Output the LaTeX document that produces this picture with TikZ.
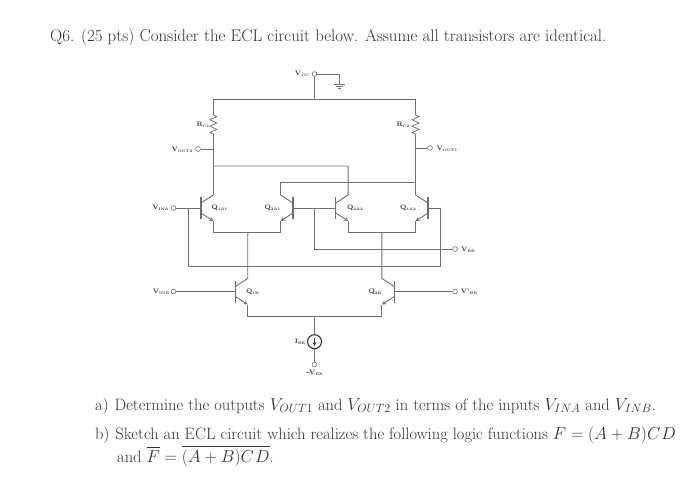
\documentclass[tikz,border=0pt]{standalone}
\usepackage{amsmath}
\definecolor{wiregray}{RGB}{110,110,110}
\definecolor{inkgray}{RGB}{50,50,50}
\newcommand{\sublbl}[2]{#1\raisebox{-1.2pt}{\fontsize{3.6}{4}\selectfont #2}}
\tikzset{
  wire/.style={wiregray, line width=0.9pt},
  terminal/.style={circle, draw=wiregray, fill=white, line width=0.6pt, inner sep=0pt, minimum size=4.8pt},
  lbl/.style={inkgray, font=\fontsize{6.5}{8}\selectfont\bfseries, inner sep=0pt},
  body/.style={inkgray, font=\fontsize{16.5}{18}\selectfont, inner sep=0pt, anchor=base west},
}
\begin{document}
\begin{tikzpicture}[x=1pt,y=-1pt]
        \useasboundingbox (0,0) rectangle (700,477);
        % question text
        \node[body, font=\fontsize{16.9}{18}\selectfont] (title) at (50,41) {Q6. (25 pts) Consider the ECL circuit below. Assume all transistors are identical.};
        \node[body] (parta) at (95,410) {a)\hspace{6pt}Determine the outputs $V_{OUT1}$ and $V_{OUT2}$ in terms of the inputs $V_{INA}$ and $V_{INB}$.};
        \node[body] (partb) at (95,439) {b)\hspace{6pt}Sketch an ECL circuit which realizes the following logic functions $F=(A+B)C\mkern1mu D$};
        \node[body] (partc) at (117,462) {and $\overline{F}=\overline{(A+B)C\mkern1mu D}$.};
        % transistors: name/base bar x/y/side
        \foreach \qname/\qx/\qy/\qs in {qa/201/208/1, qb/293/208/-1, qc/335.7/208/1, qd/428/208/-1, qe/235.3/291.5/1, qf/394.3/291.5/-1} {
          \coordinate (\qname-b) at (\qx,\qy);
          \coordinate (\qname-c) at (\qx+\qs*12.4,\qy-13);
          \coordinate (\qname-e) at (\qx+\qs*12.4,\qy+13);
          \draw[wire, line width=1.1pt] (\qx,\qy-11) -- (\qx,\qy+11);
          \draw[wire] (\qx,\qy-5) -- (\qname-c);
          \draw[wire, -stealth] (\qx,\qy+5) -- (\qname-e);
        }
        % terminals
        \node[terminal] (vcc) at (314.5,74) {};
        \node[terminal] (vouta) at (198,149) {};
        \node[terminal] (voutb) at (430,148) {};
        \node[terminal] (vina) at (173.5,208) {};
        \node[terminal] (vinb) at (173.5,291.5) {};
        \node[terminal] (vbb) at (455,249) {};
        \node[terminal] (vbbp) at (455,291.5) {};
        \node[terminal] (vee) at (314.5,364.5) {};
        % junctions
        \coordinate (rail) at (314.5,99);
        \coordinate (raila) at (213.4,99);
        \coordinate (railb) at (415.6,99);
        \coordinate (gnd) at (339.5,84);
        \coordinate (ra1) at (213.4,115);
        \coordinate (ra2) at (213.4,134);
        \coordinate (rb1) at (415.6,115);
        \coordinate (rb2) at (415.6,134);
        \coordinate (tapa) at (213.4,149);
        \coordinate (tapb) at (415.6,148);
        \coordinate (cross) at (314.5,316.7);
        % supply and loads
        \draw[wire] (vcc) -- (rail);
        \draw[wire] (vcc) -| (gnd);
        \draw[wire] (raila) -- (railb);
        \draw[wire] (raila) -- (ra1);
        \draw[wire] (railb) -- (rb1);
        \foreach \rname in {ra,rb} {
          \draw[wire, line width=0.7pt] (\rname1) -- ++(3.5,1.6) -- ++(-7,3.2) -- ++(7,3.2) -- ++(-7,3.2) -- ++(7,3.2) -- ++(-7,3.2) -- (\rname2);
        }
        \draw[wire] (ra2) -- (qa-c);
        \draw[wire] (rb2) -- (qd-c);
        \draw[wire] (vouta) -- (tapa);
        \draw[wire] (voutb) -- (tapb);
        % ground
        \draw[wire] (gnd) ++(-5.5,0) -- ++(11,0);
        \draw[wire] (gnd) ++(-3.5,2) -- ++(7,0);
        \draw[wire] (gnd) ++(-1.5,4) -- ++(3,0);
        % cross coupled collectors
        \coordinate (hia) at (213.4,166);
        \coordinate (hib) at (348.1,166);
        \coordinate (loa) at (280.6,182);
        \coordinate (lob) at (415.6,182);
        \draw[wire] (hia) -- (hib) -- (qc-c);
        \draw[wire] (qb-c) -- (loa) -- (lob);
        % emitters
        \coordinate (busa) at (247.8,232.7);
        \coordinate (busb) at (381.8,232.7);
        \draw[wire] (qa-e) |- (busa) -| (qb-e);
        \draw[wire] (qc-e) |- (busb) -| (qd-e);
        \draw[wire] (busa) -- (qe-c);
        \draw[wire] (busb) -- (qf-c);
        \draw[wire] (qe-e) |- (cross) -| (qf-e);
        % bases
        \coordinate (ja) at (188.7,208);
        \coordinate (jb) at (314.3,208);
        \coordinate (qdr) at (440.7,208);
        \coordinate (qdl) at (440.7,266.7);
        \draw[wire] (vina) -- (qa-b);
        \draw[wire] (qb-b) -- (qc-b);
        \draw[wire] (qd-b) -- (qdr);
        \draw[wire] (ja) |- (qdl) -- (qdr);
        \draw[wire] (jb) |- (vbb);
        \draw[wire] (vinb) -- (qe-b);
        \draw[wire] (qf-b) -- (vbbp);
        % current source
        \node[circle, draw=inkgray, line width=1.1pt, inner sep=0pt, minimum size=14pt] (src) at (314.5,341.7) {};
        \draw[wire] (cross) -- (src);
        \draw[wire] (src) -- (vee);
        \draw[inkgray, -stealth, line width=0.7pt] (314.5,337.5) -- (314.5,346);
        % labels
        \node[lbl] (lvcc) at (302,74) {\sublbl{V}{CC}};
        \node[lbl] (lra) at (203,124.5) {\sublbl{R}{C1}};
        \node[lbl] (lrb) at (403,124.5) {\sublbl{R}{C2}};
        \node[lbl] (lvouta) at (182,150) {\sublbl{V}{OUT2}};
        \node[lbl] (lvoutb) at (447,149) {\sublbl{V}{OUT1}};
        \node[lbl] (lvina) at (160.5,208) {\sublbl{V}{INA}};
        \node[lbl] (lvinb) at (161,292) {\sublbl{V}{INB}};
        \node[lbl] (lvbb) at (468,249.5) {\sublbl{V}{BB}};
        \node[lbl] (lvbbp) at (469,291.5) {\sublbl{V'}{BB}};
        \node[lbl] (lqa) at (219.5,207.5) {\sublbl{Q}{1A1}};
        \node[lbl] (lqb) at (272.5,207.5) {\sublbl{Q}{2A1}};
        \node[lbl] (lqc) at (355,208) {\sublbl{Q}{2A2}};
        \node[lbl] (lqd) at (408,208) {\sublbl{Q}{1A2}};
        \node[lbl] (lqe) at (252.5,291.5) {\sublbl{Q}{1B}};
        \node[lbl] (lqf) at (375,291.5) {\sublbl{Q}{2B}};
        \node[lbl] (liee) at (300,342) {\sublbl{I}{EE}};
        \node[lbl] (lvee) at (314.5,373) {\sublbl{-V}{EE}};
\end{tikzpicture}
\end{document}
